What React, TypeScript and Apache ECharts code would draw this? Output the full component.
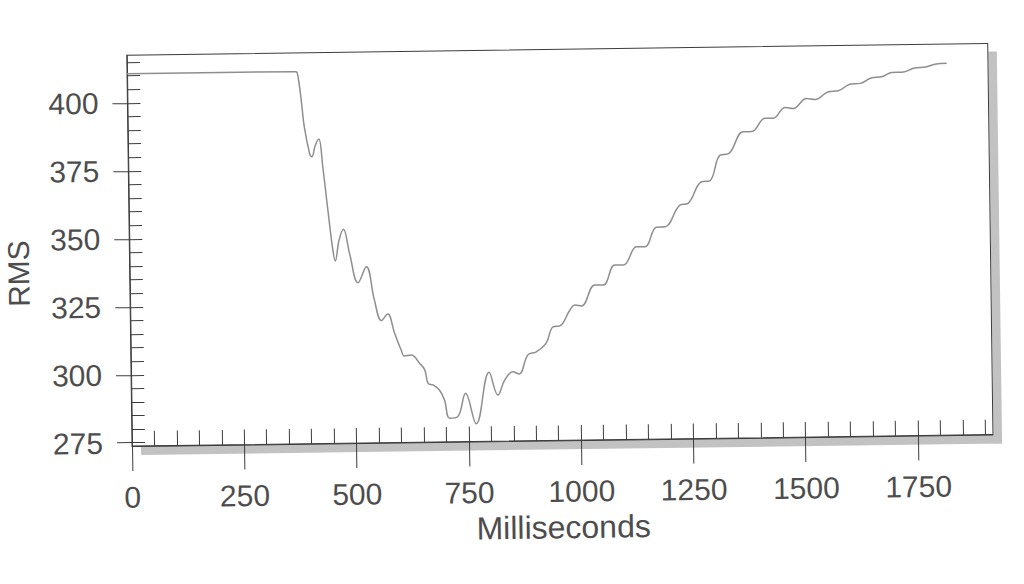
import React, { useEffect, useRef } from "react";
import * as echarts from "echarts";

// Time (ms) and RMS readings
const timeMs = [
  0, 376, 380, 387, 393, 404, 409, 417, 425, 433, 443, 453, 458, 467, 477, 490,
  508, 527, 544, 559, 573, 588, 602, 609, 624, 643, 654, 661, 672, 686, 697, 708,
  726, 744, 767, 797, 816, 832, 850, 864, 884, 903, 925, 941, 956, 979, 990, 1005,
  1035, 1054, 1080, 1100, 1129, 1148, 1174, 1193, 1227, 1245, 1276, 1294, 1318, 1336,
  1370, 1389, 1419, 1437, 1464, 1482, 1512, 1531, 1561, 1583, 1609, 1632, 1658, 1680,
  1702, 1729, 1751, 1780, 1799, 1825,
];
const rmsValues = [
  410.8, 410.7, 409.4, 400.2, 390.4, 380.6, 379.3, 383.5, 385.8, 375.6, 359.7, 344.9, 340.9, 348.5, 352.5, 343.6,
  332.8, 338.6, 326.3, 318.7, 321.1, 314.0, 307.8, 305.6, 305.9, 302.8, 300.4, 295.4, 294.8, 292.9, 289.2, 282.5,
  283.0, 291.6, 280.3, 299.2, 290.8, 296.3, 299.3, 298.4, 305.4, 306.5, 309.6, 315.6, 315.9, 321.7, 323.5, 323.1,
  330.8, 330.7, 338.0, 338.0, 344.6, 344.6, 351.7, 351.8, 359.7, 360.3, 368.2, 368.5, 377.9, 378.3,
  386.4, 386.4, 391.2, 391.2, 395.1, 394.7, 398.3, 397.9, 400.7, 401.0, 403.3, 403.6, 405.6, 405.9,
  407.4, 407.6, 408.9, 409.4, 410.3, 410.6,
];

const xMajorTicks = [0, 250, 500, 750, 1000, 1250, 1500, 1750];
const xMinorTicks = [
  50, 100, 150, 200, 250, 300, 350, 400, 450, 500, 550, 600, 650, 700, 750, 800, 850, 900, 950,
  1000, 1050, 1100, 1150, 1200, 1250, 1300, 1350, 1400, 1450, 1500, 1550, 1600, 1650, 1700, 1750,
  1800, 1850, 1900,
];
const yMajorTicks = [275, 300, 325, 350, 375, 400];
const yMinorTicks = [
  275, 280, 285, 290, 295, 300, 305, 310, 315, 320, 325, 330, 335, 340, 345, 350, 355, 360, 365,
  370, 375, 380, 385, 390, 395, 400, 405, 410, 415,
];

const X_MIN = 0;
const X_MAX = 1917;
const Y_MIN = 273.8;
const Y_MAX = 417.6;

const FONT = "'Liberation Sans', Arial, Helvetica, sans-serif";
const TEXT_COLOR = "#4d4d4d";
const AXIS_COLOR = "#3c3c3c";

export default function App() {
  const ref = useRef<HTMLDivElement>(null);

  useEffect(() => {
    if (!ref.current) return;
    const chart = echarts.init(ref.current, undefined, { renderer: "svg" });
    const data = timeMs.map((t, i) => [t, rmsValues[i]]);
    const plain = (v: number) => String(v);

    chart.setOption({
      animation: false,
      backgroundColor: "#ffffff",
      grid: {
        left: 130,
        right: 33,
        top: 50,
        bottom: 143,
        show: true,
        borderColor: AXIS_COLOR,
        borderWidth: 1,
        backgroundColor: "transparent",
      },
      xAxis: [
        {
          type: "value",
          min: X_MIN,
          max: X_MAX,
          position: "bottom",
          name: "Milliseconds",
          nameLocation: "middle",
          nameGap: 66,
          nameTextStyle: { fontSize: 32, color: TEXT_COLOR, fontFamily: FONT },
          axisLine: { show: true, lineStyle: { color: AXIS_COLOR, width: 1 } },
          axisTick: {
            show: true,
            inside: false,
            length: 25,
            customValues: xMajorTicks,
            lineStyle: { color: AXIS_COLOR, width: 1 },
          },
          axisLabel: {
            show: true,
            customValues: xMajorTicks,
            formatter: plain,
            fontSize: 30,
            color: TEXT_COLOR,
            fontFamily: FONT,
            margin: 36,
          },
          splitLine: { show: false },
        },
        {
          type: "value",
          min: X_MIN,
          max: X_MAX,
          position: "bottom",
          axisLine: { show: false },
          axisTick: {
            show: true,
            inside: true,
            length: 15,
            customValues: xMinorTicks,
            lineStyle: { color: AXIS_COLOR, width: 1 },
          },
          axisLabel: { show: false },
          splitLine: { show: false },
        },
      ],
      yAxis: [
        {
          type: "value",
          min: Y_MIN,
          max: Y_MAX,
          position: "left",
          axisLine: { show: true, lineStyle: { color: AXIS_COLOR, width: 1 } },
          axisTick: {
            show: true,
            inside: false,
            length: 15,
            customValues: yMajorTicks,
            lineStyle: { color: AXIS_COLOR, width: 1 },
          },
          axisLabel: {
            show: true,
            customValues: yMajorTicks,
            formatter: plain,
            fontSize: 30,
            color: TEXT_COLOR,
            fontFamily: FONT,
            margin: 29,
          },
          splitLine: { show: false },
        },
        {
          type: "value",
          min: Y_MIN,
          max: Y_MAX,
          position: "left",
          axisLine: { show: false },
          axisTick: {
            show: true,
            inside: true,
            length: 13,
            customValues: yMinorTicks,
            lineStyle: { color: AXIS_COLOR, width: 1 },
          },
          axisLabel: { show: false },
          splitLine: { show: false },
        },
      ],
      graphic: [
        {
          type: "rect",
          z: -1,
          shape: { x: 139, y: 441.5, width: 861, height: 8.5 },
          style: { fill: "#c2c2c2" },
        },
        {
          type: "rect",
          z: -1,
          shape: { x: 991.5, y: 58, width: 8.5, height: 392 },
          style: { fill: "#c2c2c2" },
        },
        {
          type: "text",
          x: 19,
          y: 267,
          rotation: Math.PI / 2,
          style: {
            text: "RMS",
            fontSize: 30,
            fill: TEXT_COLOR,
            fontFamily: FONT,
            align: "center",
            verticalAlign: "middle",
          },
        },
      ],
      series: [
        {
          type: "line",
          xAxisIndex: 0,
          yAxisIndex: 0,
          data,
          showSymbol: false,
          smooth: 0.4,
          lineStyle: { color: "#8e8e8e", width: 1.5 },
        },
      ],
    });

    return () => chart.dispose();
  }, []);

  return (
    <div
      style={{
        position: "absolute",
        left: 0,
        top: 0,
        width: 1024,
        height: 584,
        background: "#ffffff",
        transform: "rotate(-0.77deg)",
        transformOrigin: "512px 292px",
      }}
    >
      <div ref={ref} style={{ width: 1024, height: 584 }} />
    </div>
  );
}
